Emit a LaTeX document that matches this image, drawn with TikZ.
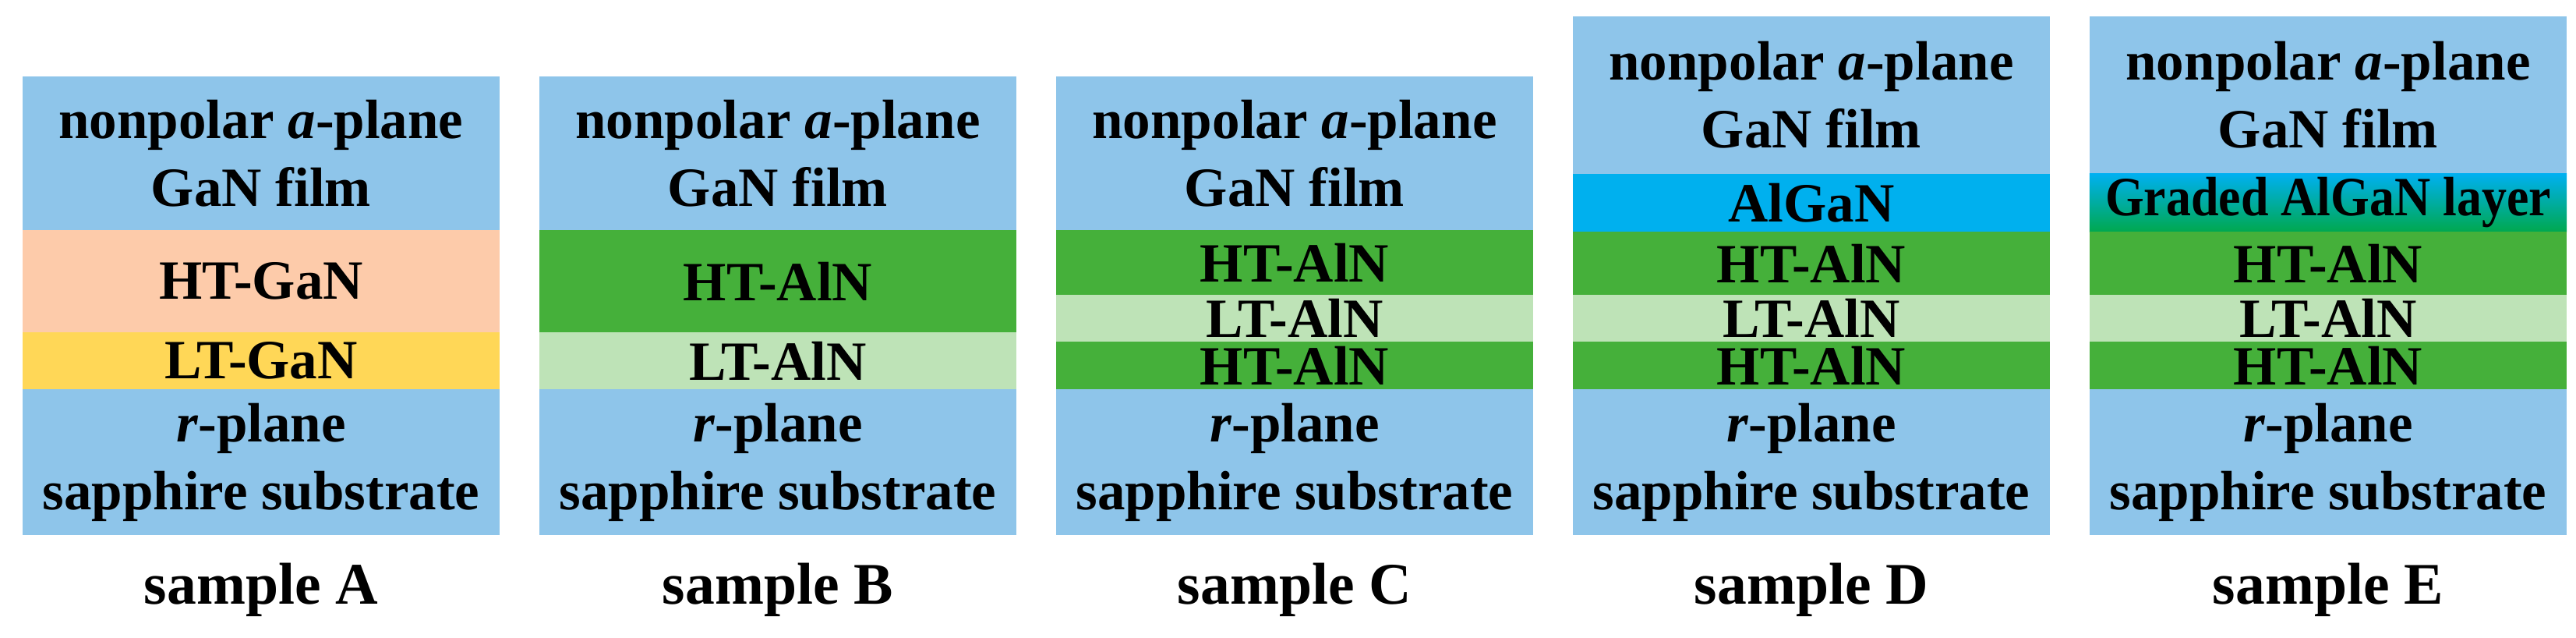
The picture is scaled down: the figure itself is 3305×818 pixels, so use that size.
\documentclass[tikz,border=0pt]{standalone}
\usepackage{fontspec}
\setmainfont{Liberation Serif}[BoldFont={Liberation Serif Bold},BoldItalicFont={Liberation Serif Bold Italic}]
\definecolor{sub}{HTML}{8EC5EA}
\definecolor{peach}{HTML}{FDCBAA}
\definecolor{ylw}{HTML}{FFD757}
\definecolor{grn}{HTML}{45B03A}
\definecolor{lgrn}{HTML}{BEE3B7}
\definecolor{cyn}{HTML}{00B0EE}
\definecolor{gtop}{HTML}{00B0F0}
\definecolor{gbot}{HTML}{00A84F}
\begin{document}
\begin{tikzpicture}[x=0.01cm,y=-0.01cm,
  layer/.style={draw=none,inner sep=0pt,minimum width=6.12cm,align=center,
    font=\fontsize{20.2}{24.7}\selectfont\bfseries,text=black},
  lbl/.style={inner sep=0pt,font=\fontsize{21.5}{24}\selectfont\bfseries}]
\useasboundingbox (0,0) rectangle (3305,818);
% sample A (cx=335)
\node[layer,fill=sub,minimum height=1.97cm] (a1) at (335,196.5) {nonpolar \textit{a}-plane\\GaN film};
\node[layer,fill=peach,minimum height=1.31cm] (a2) at (335,360.5) {HT-GaN};
\node[layer,fill=ylw,minimum height=0.73cm] (a3) at (335,462.5) {LT-GaN};
\node[layer,fill=sub,minimum height=1.87cm] (a4) at (335,592.5) {\textit{r}-plane\\sapphire substrate};
\node[lbl] (la) at (335,756) {sample A};
% sample B (cx=998)
\node[layer,fill=sub,minimum height=1.97cm] (b1) at (998,196.5) {nonpolar \textit{a}-plane\\GaN film};
\node[layer,fill=grn,minimum height=1.31cm] (b2) at (998,360.5) {HT-AlN};
\node[layer,fill=lgrn,minimum height=0.73cm] (b3) at (998,462.5) {LT-AlN};
\node[layer,fill=sub,minimum height=1.87cm] (b4) at (998,592.5) {\textit{r}-plane\\sapphire substrate};
\node[lbl] (lb) at (998,756) {sample B};
% sample C (cx=1661)
\node[layer,fill=sub,minimum height=1.97cm] (c1) at (1661,196.5) {nonpolar \textit{a}-plane\\GaN film};
\node[layer,fill=grn,minimum height=0.83cm] (c2) at (1661,336.5) {HT-AlN};
\node[layer,fill=lgrn,minimum height=0.60cm] (c3) at (1661,408) {LT-AlN};
\node[layer,fill=grn,minimum height=0.61cm] (c4) at (1661,468.5) {HT-AlN};
\node[layer,fill=sub,minimum height=1.87cm] (c5) at (1661,592.5) {\textit{r}-plane\\sapphire substrate};
\node[lbl] (lc) at (1661,756) {sample C};
% sample D (cx=2324)
\node[layer,fill=sub,minimum height=2.02cm] (d1) at (2324,122) {nonpolar \textit{a}-plane\\GaN film};
\node[layer,fill=cyn,minimum height=0.74cm] (d2) at (2324,260) {AlGaN};
\node[layer,fill=grn,minimum height=0.81cm] (d3) at (2324,337.5) {HT-AlN};
\node[layer,fill=lgrn,minimum height=0.60cm] (d4) at (2324,408) {LT-AlN};
\node[layer,fill=grn,minimum height=0.61cm] (d5) at (2324,468.5) {HT-AlN};
\node[layer,fill=sub,minimum height=1.87cm] (d6) at (2324,592.5) {\textit{r}-plane\\sapphire substrate};
\node[lbl] (ld) at (2324,756) {sample D};
% sample E (cx=2987)
\node[layer,fill=sub,minimum height=2.02cm] (e1) at (2987,122) {nonpolar \textit{a}-plane\\GaN film};
\node[layer,top color=gtop,bottom color=gbot,minimum height=0.74cm] (e2) at (2987,260) {\scalebox{0.9}[1]{Graded AlGaN layer}};
\node[layer,fill=grn,minimum height=0.81cm] (e3) at (2987,337.5) {HT-AlN};
\node[layer,fill=lgrn,minimum height=0.60cm] (e4) at (2987,408) {LT-AlN};
\node[layer,fill=grn,minimum height=0.61cm] (e5) at (2987,468.5) {HT-AlN};
\node[layer,fill=sub,minimum height=1.87cm] (e6) at (2987,592.5) {\textit{r}-plane\\sapphire substrate};
\node[lbl] (le) at (2987,756) {sample E};
\end{tikzpicture}
\end{document}
